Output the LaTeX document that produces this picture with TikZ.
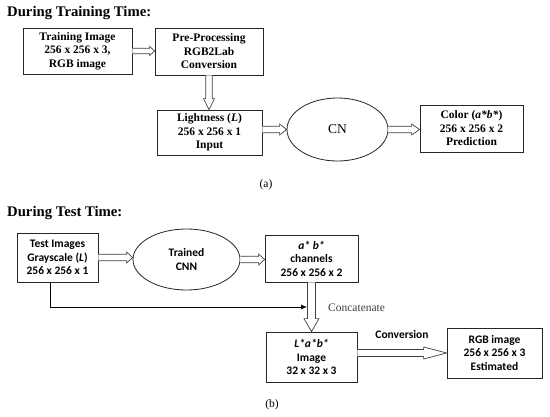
\documentclass[tikz,border=0pt]{standalone}
\usepackage{fontspec}
\setmainfont{Liberation Serif}
\newfontfamily\calfnt{Carlito}
\usetikzlibrary{shapes.geometric,calc,arrows.meta}
\tikzset{
  box/.style={draw=black!85, line width=0.8pt, rectangle, inner sep=0pt, align=center},
  ser/.style={font=\fontsize{11.5}{13.5}\selectfont\bfseries},
  san/.style={font=\calfnt\fontsize{11.5}{13.5}\selectfont\bfseries},
  ell/.style={draw=black!85, line width=0.8pt, ellipse, inner sep=0pt, align=center},
  blk/.style={draw=black!75, line width=0.7pt, fill=white, line join=miter},
  ttl/.style={anchor=base west, inner sep=0pt, font=\fontsize{14.7}{16}\selectfont\bfseries},
  captxt/.style={inner sep=0pt, font=\fontsize{11.5}{13.5}\selectfont}
}
% horizontal block arrow: start, end, shaft half, head half, head length
\newcommand\harr[5]{\draw[blk] let \p1=(#1), \p2=(#2) in
  (\x1,\y1+#3) -- (\x2-#5,\y1+#3) -- (\x2-#5,\y1+#4) -- (\x2,\y1) -- (\x2-#5,\y1-#4) -- (\x2-#5,\y1-#3) -- (\x1,\y1-#3);}
% downward block arrow
\newcommand\varr[5]{\draw[blk] let \p1=(#1), \p2=(#2) in
  (\x1-#3,\y1) -- (\x1-#3,\y2+#5) -- (\x1-#4,\y2+#5) -- (\x1,\y2) -- (\x1+#4,\y2+#5) -- (\x1+#3,\y2+#5) -- (\x1+#3,\y1);}
\begin{document}
\begin{tikzpicture}[x=1pt,y=-1pt]
\useasboundingbox (0,0) rectangle (550,416);
\fill[white] (0,0) rectangle (550,416);
% ---- training ----
\node[ttl] (t1) at (7,16) {During Training Time:};
\node[box,ser,minimum width=109pt,minimum height=46pt] (tr) at (77.5,51) {Training Image\\256 x 256 x 3,\\RGB image};
\node[box,ser,minimum width=108pt,minimum height=47pt] (pp) at (209,51.5) {Pre-Processing\\RGB2Lab\\Conversion};
\node[box,ser,minimum width=105pt,minimum height=45pt] (li) at (209.5,132.5) {Lightness (\textit{L})\\256 x 256 x 1\\Input};
\node[ell,minimum width=101pt,minimum height=63pt,font=\fontsize{13.5}{15}\selectfont] (cn) at (337.5,129.5) {CN};
\node[box,ser,minimum width=103pt,minimum height=47pt] (co) at (471.5,128.5) {Color (\textit{a*b*})\\256 x 256 x 2\\Prediction};
\node[captxt] (la) at (266,185) {(a)};
\harr{tr.east}{pp.west}{2.8pt}{4.5pt}{5pt}
\varr{pp.south}{li.north}{3.3pt}{5.5pt}{11pt}
\harr{li.east |- cn.west}{cn.west}{3.3pt}{5.5pt}{7pt}
\harr{cn.east}{co.west}{3.3pt}{5.5pt}{8pt}
% ---- test ----
\node[ttl] (t2) at (7,216) {During Test Time:};
\node[box,san,minimum width=81pt,minimum height=49pt] (ti) at (57.5,257.5) {Test Images\\Grayscale (\textit{L})\\256 x 256 x 1};
\node[ell,san,minimum width=107pt,minimum height=61pt] (cnn) at (186.5,259.5) {Trained\\CNN};
\node[box,san,minimum width=93pt,minimum height=47pt] (ab) at (311.5,258.5) {\textit{a* b*}\\channels\\256 x 256 x 2};
\node[box,san,minimum width=91pt,minimum height=50pt] (lab) at (311.5,357) {\textit{L*a*b*}\\Image\\32 x 32 x 3};
\node[box,san,minimum width=95pt,minimum height=50pt] (rgb) at (494.5,353) {RGB image\\256 x 256 x 3\\Estimated};
\node[captxt,anchor=west,text=black!75] (cc) at (328,308) {Concatenate};
\node[san,inner sep=0pt] (cv) at (402,335) {Conversion};
\node[captxt] (lb) at (272,405) {(b)};
\harr{ti.east}{cnn.west}{3.3pt}{5.5pt}{6pt}
\harr{cnn.east}{ab.west}{3.3pt}{5.5pt}{6pt}
\varr{ab.south}{lab.north}{4pt}{7.5pt}{13pt}
\harr{lab.east |- rgb.west}{rgb.west}{3.5pt}{6pt}{23pt}
\coordinate (ce) at (307,307);
\draw[line width=0.8pt,-{Latex[length=6pt,width=5pt]}] ([xshift=-7.5pt]ti.south) |- (ce);
\end{tikzpicture}
\end{document}
